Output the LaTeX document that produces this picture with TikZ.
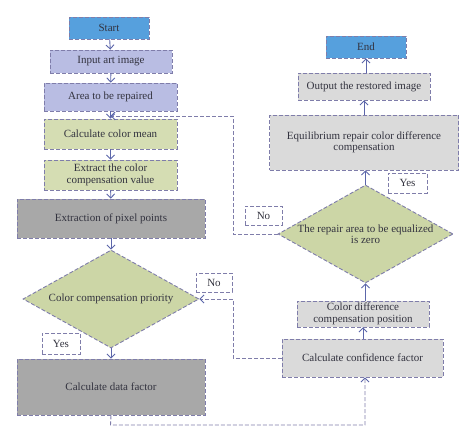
\documentclass[tikz,border=0pt]{standalone}
\usepackage{fontspec}
\setmainfont{Liberation Serif}
\usetikzlibrary{shapes.geometric,arrows.meta}
\definecolor{startblue}{HTML}{56A0DD}
\definecolor{lav}{HTML}{B9BDE3}
\definecolor{olive}{HTML}{D5DDB3}
\definecolor{olived}{HTML}{CCD6A6}
\definecolor{dgray}{HTML}{A8A8A8}
\definecolor{lgray}{HTML}{DADADA}
\definecolor{bord}{HTML}{7F7DAA}
\definecolor{arr}{HTML}{5C66AA}
\definecolor{txt}{HTML}{33333F}
\tikzset{
  lab/.style={font=\fontsize{11}{12.5}\selectfont},
  box/.style={draw=bord, dash pattern=on 4pt off 2pt, line width=0.9pt, rectangle, inner sep=2pt, align=center, text=txt, lab},
  dia/.style={draw=bord, dash pattern=on 4pt off 2pt, line width=0.9pt, diamond, inner sep=0pt, fill=olived, text=txt},
  lbl/.style={box, fill=white},
  flow/.style={draw=arr, line width=0.9pt, -{Straight Barb[length=4pt,width=8pt]}},
  loopline/.style={draw=bord, line width=0.9pt, dash pattern=on 4pt off 2pt, -{Straight Barb[length=4pt,width=8pt,color=arr]}}
}
\begin{document}
\begin{tikzpicture}[x=1pt,y=-1pt]
\useasboundingbox (0,0) rectangle (474,443);
% left column
\node[box, fill=startblue, minimum width=80pt, minimum height=22pt] (start) at (109,28) {Start};
\node[box, fill=lav, minimum width=122pt, minimum height=23pt] (input) at (111,61.5) {Input art image};
\node[box, fill=lav, minimum width=133pt, minimum height=28pt] (area) at (110.5,97) {Area to be repaired};
\node[box, fill=olive, minimum width=133pt, minimum height=30pt] (mean) at (110.5,134) {Calculate color mean};
\node[box, fill=olive, minimum width=133pt, minimum height=30pt] (extract) at (110.5,175) {Extract the color\\[-1pt]compensation value};
\node[box, fill=dgray, minimum width=188pt, minimum height=39pt] (pixel) at (111,218.5) {Extraction of pixel points};
\node[dia, minimum width=176pt, minimum height=98pt, label={[text=txt, lab]center:Color compensation priority}] (prio) at (111,299) {};
\node[lbl, minimum width=38pt, minimum height=21pt] (yes1) at (61,343.5) {Yes};
\node[box, fill=dgray, minimum width=188pt, minimum height=56pt] (data) at (111,387) {Calculate data factor};
\node[lbl, minimum width=36pt, minimum height=19pt] (no1) at (214,282.5) {No};
% right column
\node[box, fill=startblue, minimum width=80pt, minimum height=22pt] (end) at (366,47) {End};
\node[box, fill=lgray, minimum width=132pt, minimum height=27pt] (output) at (364,86.5) {Output the restored image};
\node[box, fill=lgray, minimum width=189pt, minimum height=55pt] (equi) at (364,142.5) {Equilibrium repair color difference\\[-1pt]compensation};
\node[lbl, minimum width=39pt, minimum height=20pt] (yes2) at (407.5,183) {Yes};
\node[dia, minimum width=175pt, minimum height=98pt, label={[text=txt, align=center, lab]center:The repair area to be equalized\\[-1pt]is zero}] (zero) at (365.5,234) {};
\node[lbl, minimum width=37pt, minimum height=19pt] (no2) at (263.5,215.5) {No};
\node[box, fill=lgray, minimum width=132pt, minimum height=26pt] (pos) at (363,314) {Color difference\\[-1pt]compensation position};
\node[box, fill=lgray, minimum width=161pt, minimum height=38pt] (conf) at (362.5,358) {Calculate confidence factor};
% coordinates
\coordinate (m) at (110.5,116);
\coordinate (c1) at (110.5,425);
\coordinate (c2) at (365,425);
\coordinate (c3) at (233,358);
\coordinate (c4) at (233,299);
\coordinate (c5) at (233,234);
\coordinate (c6) at (233,116);
% left flow
\draw[flow] (start) -- (input);
\draw[flow] (input) -- (area);
\draw[flow] (area) -- (mean);
\draw[flow] (mean) -- (extract);
\draw[flow] (extract) -- (pixel);
\draw[flow] (pixel.south) -- (prio.north);
\draw[flow] (prio.south) -- (data.north);
% right flow
\draw[flow] (conf.north -| pos.south) -- (pos.south);
\draw[flow] (pos.north -| zero.south) -- (zero.south);
\draw[flow] (zero.north) -- (zero.north |- equi.south);
\draw[flow] (equi.north -| output.south) -- (output.south);
\draw[flow] (output.north -| end.south) -- (end.south);
% loops
\draw[loopline] (data.south) -- (c1) -- (c2) -- (c2 |- conf.south);
\draw[loopline] (conf.west) -- (c3) -- (c4) -- (prio.east);
\draw[loopline] (zero.west) -- (c5) -- (c6) -- (m);
\end{tikzpicture}
\end{document}
